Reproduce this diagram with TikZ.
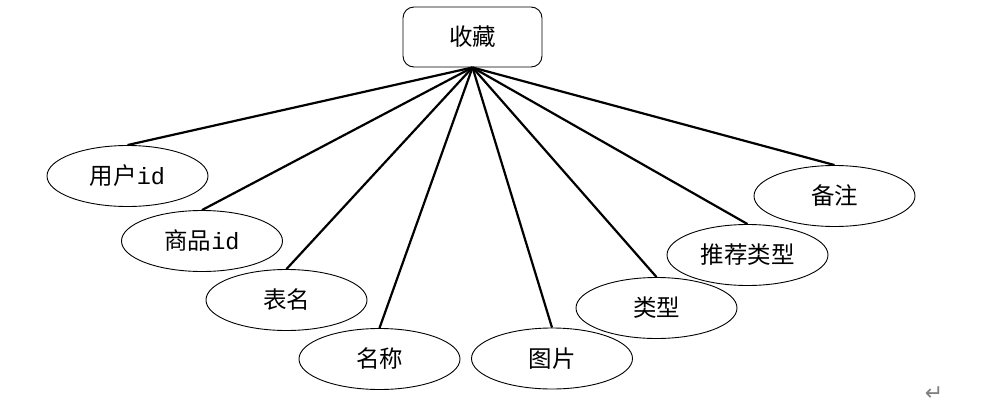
\documentclass[tikz,border=0pt]{standalone}
\usepackage{fontspec}
\setmainfont{Noto Sans CJK SC}
\newfontfamily\symfont{DejaVu Sans}
\newfontfamily\latmono{Liberation Mono}
\usetikzlibrary{shapes.geometric}
\begin{document}
\begin{tikzpicture}[x=1pt,y=-1pt,
  attr/.style={ellipse,draw,line width=0.9pt,minimum width=161pt,minimum height=61pt,inner sep=0pt,font=\fontsize{23.5}{26}\selectfont},
  ent/.style={rectangle,rounded corners=11pt,draw,line width=0.9pt,minimum width=139pt,minimum height=60pt,inner sep=0pt,font=\fontsize{23.5}{26}\selectfont},
  link/.style={line width=2.2pt}]
\useasboundingbox (0,0) rectangle (983,413);
\node[ent] (top) at (472.5,37) {收藏};
\node[attr] (a1) at (127.5,176) {用户{\latmono id}};
\node[attr] (a2) at (202,241) {商品{\latmono id}};
\node[attr] (a3) at (286.5,300) {表名};
\node[attr] (a4) at (379.5,359) {名称};
\node[attr] (a5) at (552,358.5) {图片};
\node[attr] (a6) at (656.5,308) {类型};
\node[attr] (a7) at (747.5,255) {推荐类型};
\node[attr] (a8) at (834.5,196) {备注};
\foreach \n in {a1,a2,a3,a4,a5,a6,a7,a8} \draw[link] (top.south) -- (\n.north);
\node[text=gray,font=\symfont\fontsize{22}{24}\selectfont] (ret) at (934,394) {↵};
\end{tikzpicture}
\end{document}
